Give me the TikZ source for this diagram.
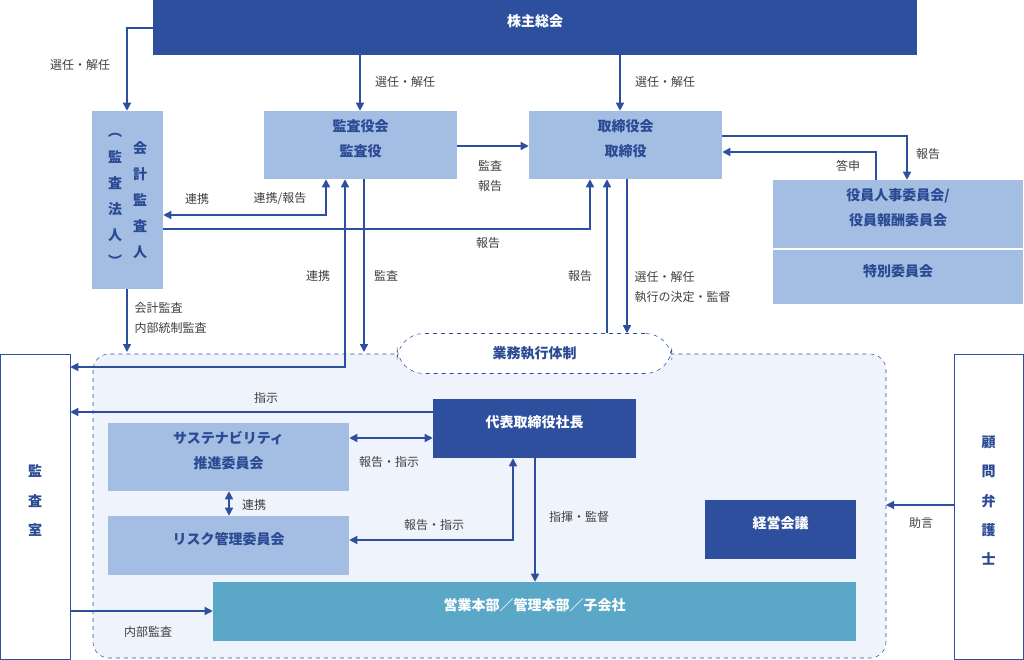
\documentclass[tikz,border=0pt]{standalone}
\usepackage{fontspec}
\setmainfont{Noto Sans CJK JP}
\usetikzlibrary{arrows.meta,fit}
\definecolor{navy}{HTML}{2E4F9E}
\definecolor{pale}{HTML}{A3BDE3}
\definecolor{navytext}{HTML}{2B4A94}
\definecolor{teal}{HTML}{5AA7C7}
\definecolor{zone}{HTML}{EFF3FB}
\begin{document}
\begin{tikzpicture}[x=0.75pt,y=-0.75pt,
	dbox/.style={fill=navy,text=white,inner sep=0,font=\bfseries\fontsize{10.5}{16}\selectfont,align=center},
	lbox/.style={fill=pale,text=navytext,inner sep=0,font=\bfseries\fontsize{10.5}{19}\selectfont,align=center},
	wbox/.style={draw=navy,fill=white,text=navytext,inner sep=0,font=\bfseries\fontsize{10.5}{22}\selectfont,align=center},
	lab/.style={text=black!75,font=\fontsize{9}{15}\selectfont,align=left,inner sep=1pt},
	arr/.style={draw=navy,line width=1.1pt,-{Triangle[length=6pt,width=6pt]}},
	darr/.style={draw=navy,line width=1.1pt,{Triangle[length=6pt,width=6pt]}-{Triangle[length=6pt,width=6pt]}},
	line/.style={draw=navy,line width=1.1pt}]
	\useasboundingbox (0,0) rectangle (1024,660);
	% execution zone
	\draw[navy,dashed,fill=zone,rounded corners=12pt] (93,354) rectangle (886,658);
	\node[draw=navy,dashed,fill=white,rounded corners=20pt,minimum width=206pt,minimum height=30pt,text=navytext,font=\bfseries\fontsize{10.5}{12}\selectfont] (gyomu) at (534.5,353.5) {業務執行体制};
	% boxes
	\node[dbox,fit={(153,0)(917,55)}] (kabu) {株主総会};
	\node[lbox,fit={(92,111)(163,289)}] (kaikei) {};
	\node[text=navytext,font=\bfseries\fontsize{10.5}{19.5}\selectfont,align=center] (kaikeiA) at (140,200) {会\\計\\監\\査\\人};
	\node[text=navytext,font=\bfseries\fontsize{10.5}{19.5}\selectfont,align=center] (kaikeiB) at (115,200) {︵\\監\\査\\法\\人\\︶};
	\node[lbox,fit={(264,111)(457,179)}] (kansa) {監査役会\\監査役};
	\node[lbox,fit={(529,111)(722,179)}] (tori) {取締役会\\取締役};
	\node[lbox,fit={(773,180)(1023,248)}] (iin) {役員人事委員会/\\役員報酬委員会};
	\node[lbox,fit={(773,250)(1023,304)}] (tokubetsu) {特別委員会};
	\node[wbox,fit={(0,354)(70,659)}] (kansashitsu) {監\\査\\室};
	\node[wbox,fit={(954,354)(1023,659)}] (komon) {顧\\問\\弁\\護\\士};
	\node[dbox,fit={(433,399)(636,458)}] (shacho) {代表取締役社長};
	\node[lbox,fit={(108,423)(349,491)}] (sustain) {サステナビリティ\\推進委員会};
	\node[lbox,fit={(108,516)(349,575)}] (risk) {リスク管理委員会};
	\node[dbox,fit={(705,500)(856,559)}] (keiei) {経営会議};
	\node[dbox,fill=teal,fit={(213,582)(856,641)}] (eigyo) {営業本部／管理本部／子会社};
	% connectors
	\draw[arr] (kabu.west |- 0,28) -- (127,28) -- (kaikei.north -| 127,0);
	\node[lab] at (80,65) {選任・解任};
	\draw[arr] (kabu.south -| 360,0) -- (kansa.north -| 360,0);
	\node[lab] at (405,82) {選任・解任};
	\draw[arr] (kabu.south -| 620,0) -- (tori.north -| 620,0);
	\node[lab] at (665,82) {選任・解任};
	\draw[arr] (kansa.east |- 0,146) -- (tori.west |- 0,146);
	\node[lab,align=center] at (490,176) {監査\\報告};
	\draw[arr] (tori.east |- 0,136) -- (907,136) -- (iin.north -| 907,0);
	\node[lab] at (928,154) {報告};
	\draw[arr] (iin.north -| 876,0) -- (876,152) -- (tori.east |- 0,152);
	\node[lab] at (848,166) {答申};
	\draw[darr] (kaikei.east |- 0,215) -- (326,215) -- (kansa.south -| 326,0);
	\node[lab] at (197,199) {連携};
	\node[lab] at (280,199) {連携/報告};
	\draw[arr] (kaikei.east |- 0,229) -- (590,229) -- (tori.south -| 590,0);
	\node[lab] at (488,243) {報告};
	\draw[arr] (kaikei.south -| 127,0) -- (127,352);
	\node[lab,anchor=west] at (133,318) {会計監査\\内部統制監査};
	\draw[darr] (kansashitsu.east |- 0,367) -- (345,367) -- (kansa.south -| 345,0);
	\node[lab] at (318,276) {連携};
	\draw[arr] (kansa.south -| 364,0) -- (364,352);
	\node[lab] at (386,276) {監査};
	\draw[arr] (gyomu.north -| 607,0) -- (tori.south -| 607,0);
	\node[lab] at (580,276) {報告};
	\draw[arr] (tori.south -| 627,0) -- (gyomu.north -| 627,0);
	\node[lab,anchor=west] at (633,287) {選任・解任\\執行の決定・監督};
	\draw[arr] (shacho.west |- 0,412) -- (kansashitsu.east |- 0,412);
	\node[lab] at (266,398) {指示};
	\draw[darr] (sustain.east |- 0,438) -- (shacho.west |- 0,438);
	\node[lab] at (389,462) {報告・指示};
	\draw[darr] (sustain.south -| 229,0) -- (risk.north -| 229,0);
	\node[lab] at (254,505) {連携};
	\draw[darr] (risk.east |- 0,540) -- (513,540) -- (shacho.south -| 513,0);
	\node[lab] at (434,525) {報告・指示};
	\draw[arr] (shacho.south -| 535,0) -- (eigyo.north -| 535,0);
	\node[lab] at (579,517) {指揮・監督};
	\draw[arr] (komon.west |- 0,505) -- (886,505);
	\node[lab] at (921,523) {助言};
	\draw[arr] (kansashitsu.east |- 0,611) -- (eigyo.west |- 0,611);
	\node[lab] at (148,632) {内部監査};
\end{tikzpicture}
\end{document}
